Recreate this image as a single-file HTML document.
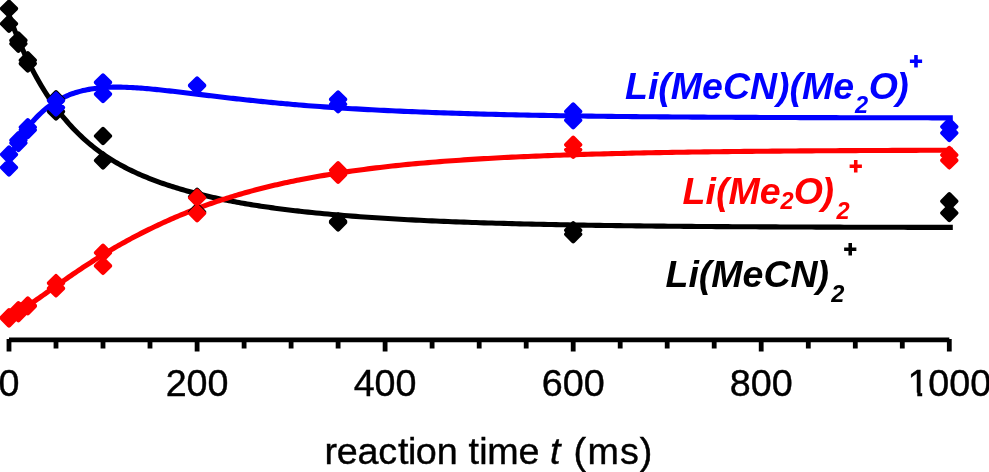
<!DOCTYPE html>
<html lang="en"><head><meta charset="utf-8"><title>reaction time plot</title>
<style>html,body{margin:0;padding:0;background:#fff;}body{width:989px;height:472px;overflow:hidden;}</style>
</head><body>
<svg width="989" height="472" viewBox="0 0 989 472" style="display:block">
<rect width="989" height="472" fill="#fff"/>
<g>
<path d="M9.0,15.13 L11.0,20.65 L13.0,25.99 L15.0,31.16 L17.0,36.17 L19.0,41.01 L21.0,45.69 L23.0,50.23 L25.0,54.62 L27.0,58.88 L29.0,63.00 L31.0,66.99 L33.0,70.86 L35.0,74.61 L37.0,78.25 L39.0,81.77 L41.0,85.19 L43.0,88.51 L45.0,91.73 L47.0,94.85 L49.0,97.88 L51.0,100.82 L53.0,103.68 L55.0,106.46 L57.0,109.15 L59.0,111.77 L61.0,114.32 L63.0,116.79 L65.0,119.20 L67.0,121.53 L69.0,123.81 L71.0,126.01 L73.0,128.16 L75.0,130.25 L77.0,132.28 L79.0,134.26 L81.0,136.18 L83.0,138.04 L85.0,139.86 L87.0,141.63 L89.0,143.34 L91.0,145.02 L93.0,146.64 L95.0,148.22 L97.0,149.76 L99.0,151.25 L101.0,152.70 L103.0,154.12 L105.0,155.49 L107.0,156.83 L109.0,158.13 L111.0,159.40 L113.0,160.63 L115.0,161.83 L117.0,163.00 L119.0,164.14 L121.0,165.25 L123.0,166.33 L125.0,167.38 L127.0,168.41 L129.0,169.41 L131.0,170.39 L133.0,171.35 L135.0,172.29 L137.0,173.20 L139.0,174.09 L141.0,174.97 L143.0,175.82 L145.0,176.66 L147.0,177.48 L149.0,178.28 L151.0,179.07 L153.0,179.84 L155.0,180.60 L157.0,181.34 L159.0,182.07 L161.0,182.78 L163.0,183.48 L165.0,184.17 L167.0,184.84 L169.0,185.50 L171.0,186.15 L173.0,186.79 L175.0,187.42 L177.0,188.03 L179.0,188.64 L181.0,189.23 L183.0,189.81 L185.0,190.39 L187.0,190.95 L189.0,191.50 L191.0,192.04 L193.0,192.57 L195.0,193.10 L197.0,193.61 L199.0,194.12 L201.0,194.61 L203.0,195.10 L205.0,195.58 L207.0,196.05 L209.0,196.51 L211.0,196.97 L213.0,197.41 L215.0,197.85 L217.0,198.28 L219.0,198.71 L221.0,199.13 L223.0,199.54 L225.0,199.94 L227.0,200.34 L229.0,200.73 L231.0,201.11 L233.0,201.49 L235.0,201.86 L237.0,202.23 L239.0,202.59 L241.0,202.94 L243.0,203.29 L245.0,203.63 L247.0,203.97 L249.0,204.30 L251.0,204.63 L253.0,204.95 L255.0,205.26 L257.0,205.57 L259.0,205.88 L261.0,206.18 L263.0,206.48 L265.0,206.77 L267.0,207.06 L269.0,207.35 L271.0,207.63 L273.0,207.90 L275.0,208.17 L277.0,208.44 L279.0,208.70 L281.0,208.96 L283.0,209.22 L285.0,209.47 L287.0,209.72 L289.0,209.96 L291.0,210.20 L293.0,210.44 L295.0,210.67 L297.0,210.90 L299.0,211.13 L300.0,211.24 L304.0,211.68 L308.0,212.11 L312.0,212.53 L316.0,212.93 L320.0,213.32 L324.0,213.71 L328.0,214.08 L332.0,214.44 L336.0,214.79 L340.0,215.13 L344.0,215.46 L348.0,215.78 L352.0,216.10 L356.0,216.40 L360.0,216.70 L364.0,216.99 L368.0,217.27 L372.0,217.54 L376.0,217.81 L380.0,218.06 L384.0,218.32 L388.0,218.56 L392.0,218.80 L396.0,219.03 L400.0,219.26 L404.0,219.48 L408.0,219.69 L412.0,219.90 L416.0,220.10 L420.0,220.30 L424.0,220.49 L428.0,220.68 L432.0,220.86 L436.0,221.03 L440.0,221.21 L444.0,221.38 L448.0,221.54 L452.0,221.70 L456.0,221.85 L460.0,222.00 L464.0,222.15 L468.0,222.29 L472.0,222.43 L476.0,222.57 L480.0,222.70 L484.0,222.83 L488.0,222.95 L492.0,223.07 L496.0,223.19 L500.0,223.31 L504.0,223.42 L508.0,223.53 L512.0,223.64 L516.0,223.74 L520.0,223.84 L524.0,223.94 L528.0,224.04 L532.0,224.13 L536.0,224.22 L540.0,224.31 L544.0,224.40 L548.0,224.48 L552.0,224.56 L556.0,224.64 L560.0,224.72 L564.0,224.79 L568.0,224.87 L572.0,224.94 L576.0,225.01 L580.0,225.08 L584.0,225.14 L588.0,225.21 L592.0,225.27 L596.0,225.33 L600.0,225.39 L604.0,225.45 L608.0,225.51 L612.0,225.56 L616.0,225.62 L620.0,225.67 L624.0,225.72 L628.0,225.77 L632.0,225.82 L636.0,225.86 L640.0,225.91 L644.0,225.95 L648.0,226.00 L652.0,226.04 L656.0,226.08 L660.0,226.12 L664.0,226.16 L668.0,226.20 L672.0,226.24 L676.0,226.27 L680.0,226.31 L684.0,226.34 L688.0,226.37 L692.0,226.41 L696.0,226.44 L700.0,226.47 L704.0,226.50 L708.0,226.53 L712.0,226.56 L716.0,226.58 L720.0,226.61 L724.0,226.64 L728.0,226.66 L732.0,226.69 L736.0,226.71 L740.0,226.74 L744.0,226.76 L748.0,226.78 L752.0,226.80 L756.0,226.82 L760.0,226.85 L764.0,226.87 L768.0,226.89 L772.0,226.90 L776.0,226.92 L780.0,226.94 L784.0,226.96 L788.0,226.98 L792.0,226.99 L796.0,227.01 L800.0,227.03 L804.0,227.04 L808.0,227.06 L812.0,227.07 L816.0,227.09 L820.0,227.10 L824.0,227.11 L828.0,227.13 L832.0,227.14 L836.0,227.15 L840.0,227.16 L844.0,227.18 L848.0,227.19 L852.0,227.20 L856.0,227.21 L860.0,227.22 L864.0,227.23 L868.0,227.24 L872.0,227.25 L876.0,227.26 L880.0,227.27 L884.0,227.28 L888.0,227.29 L892.0,227.30 L896.0,227.31 L900.0,227.31 L904.0,227.32 L908.0,227.33 L912.0,227.34 L916.0,227.34 L920.0,227.35 L924.0,227.36 L928.0,227.37 L932.0,227.37 L936.0,227.38 L940.0,227.39 L944.0,227.39 L948.0,227.40 L949.3,227.40 L952.8,227.40" fill="none" stroke="#000000" stroke-width="5.1" stroke-linejoin="round"/>
<path d="M9.0,158.77 L11.0,154.70 L13.0,150.83 L15.0,147.14 L17.0,143.63 L19.0,140.30 L21.0,137.13 L23.0,134.12 L25.0,131.26 L27.0,128.53 L29.0,125.94 L31.0,123.49 L33.0,121.16 L35.0,118.96 L37.0,116.87 L39.0,114.89 L41.0,112.99 L43.0,111.17 L45.0,109.44 L47.0,107.81 L49.0,106.27 L51.0,104.81 L53.0,103.44 L55.0,102.14 L57.0,100.92 L59.0,99.77 L61.0,98.69 L63.0,97.68 L65.0,96.72 L67.0,95.83 L69.0,94.99 L71.0,94.21 L73.0,93.48 L75.0,92.80 L77.0,92.19 L79.0,91.62 L81.0,91.09 L83.0,90.60 L85.0,90.16 L87.0,89.75 L89.0,89.37 L91.0,89.03 L93.0,88.73 L95.0,88.45 L97.0,88.20 L99.0,87.98 L101.0,87.79 L103.0,87.63 L105.0,87.48 L107.0,87.36 L109.0,87.27 L111.0,87.20 L113.0,87.16 L115.0,87.13 L117.0,87.13 L119.0,87.14 L121.0,87.17 L123.0,87.21 L125.0,87.27 L127.0,87.34 L129.0,87.43 L131.0,87.52 L133.0,87.63 L135.0,87.75 L137.0,87.88 L139.0,88.01 L141.0,88.16 L143.0,88.31 L145.0,88.48 L147.0,88.65 L149.0,88.82 L151.0,89.01 L153.0,89.20 L155.0,89.39 L157.0,89.59 L159.0,89.80 L161.0,90.00 L163.0,90.22 L165.0,90.44 L167.0,90.66 L169.0,90.88 L171.0,91.11 L173.0,91.34 L175.0,91.57 L177.0,91.80 L179.0,92.04 L181.0,92.28 L183.0,92.51 L185.0,92.74 L187.0,92.98 L189.0,93.22 L191.0,93.46 L193.0,93.69 L195.0,93.93 L197.0,94.17 L199.0,94.41 L201.0,94.65 L203.0,94.89 L205.0,95.13 L207.0,95.37 L209.0,95.61 L211.0,95.84 L213.0,96.08 L215.0,96.32 L217.0,96.55 L219.0,96.79 L221.0,97.02 L223.0,97.26 L225.0,97.49 L227.0,97.72 L229.0,97.95 L231.0,98.17 L233.0,98.40 L235.0,98.63 L237.0,98.85 L239.0,99.07 L241.0,99.29 L243.0,99.51 L245.0,99.73 L247.0,99.95 L249.0,100.16 L251.0,100.37 L253.0,100.58 L255.0,100.79 L257.0,101.00 L259.0,101.21 L261.0,101.41 L263.0,101.61 L265.0,101.82 L267.0,102.01 L269.0,102.21 L271.0,102.41 L273.0,102.60 L275.0,102.79 L277.0,102.98 L279.0,103.17 L281.0,103.35 L283.0,103.54 L285.0,103.72 L287.0,103.90 L289.0,104.08 L291.0,104.26 L293.0,104.43 L295.0,104.61 L297.0,104.78 L299.0,104.95 L300.0,105.03 L304.0,105.35 L308.0,105.67 L312.0,105.98 L316.0,106.28 L320.0,106.57 L324.0,106.86 L328.0,107.14 L332.0,107.41 L336.0,107.68 L340.0,107.94 L344.0,108.19 L348.0,108.44 L352.0,108.69 L356.0,108.92 L360.0,109.15 L364.0,109.38 L368.0,109.60 L372.0,109.81 L376.0,110.02 L380.0,110.22 L384.0,110.42 L388.0,110.61 L392.0,110.80 L396.0,110.98 L400.0,111.16 L404.0,111.33 L408.0,111.50 L412.0,111.66 L416.0,111.82 L420.0,111.98 L424.0,112.14 L428.0,112.29 L432.0,112.44 L436.0,112.59 L440.0,112.73 L444.0,112.87 L448.0,113.01 L452.0,113.14 L456.0,113.27 L460.0,113.40 L464.0,113.52 L468.0,113.64 L472.0,113.76 L476.0,113.87 L480.0,113.99 L484.0,114.09 L488.0,114.20 L492.0,114.30 L496.0,114.40 L500.0,114.50 L504.0,114.59 L508.0,114.68 L512.0,114.77 L516.0,114.86 L520.0,114.95 L524.0,115.03 L528.0,115.11 L532.0,115.19 L536.0,115.27 L540.0,115.34 L544.0,115.41 L548.0,115.48 L552.0,115.55 L556.0,115.62 L560.0,115.68 L564.0,115.75 L568.0,115.81 L572.0,115.87 L576.0,115.93 L580.0,115.98 L584.0,116.04 L588.0,116.09 L592.0,116.15 L596.0,116.20 L600.0,116.25 L604.0,116.30 L608.0,116.34 L612.0,116.39 L616.0,116.43 L620.0,116.48 L624.0,116.52 L628.0,116.56 L632.0,116.60 L636.0,116.64 L640.0,116.68 L644.0,116.71 L648.0,116.75 L652.0,116.78 L656.0,116.82 L660.0,116.85 L664.0,116.88 L668.0,116.92 L672.0,116.95 L676.0,116.98 L680.0,117.00 L684.0,117.03 L688.0,117.06 L692.0,117.09 L696.0,117.11 L700.0,117.14 L704.0,117.16 L708.0,117.18 L712.0,117.21 L716.0,117.23 L720.0,117.25 L724.0,117.27 L728.0,117.29 L732.0,117.31 L736.0,117.33 L740.0,117.35 L744.0,117.37 L748.0,117.39 L752.0,117.41 L756.0,117.42 L760.0,117.44 L764.0,117.45 L768.0,117.47 L772.0,117.48 L776.0,117.50 L780.0,117.51 L784.0,117.53 L788.0,117.54 L792.0,117.55 L796.0,117.57 L800.0,117.58 L804.0,117.59 L808.0,117.60 L812.0,117.61 L816.0,117.62 L820.0,117.63 L824.0,117.64 L828.0,117.65 L832.0,117.66 L836.0,117.67 L840.0,117.68 L844.0,117.69 L848.0,117.70 L852.0,117.71 L856.0,117.72 L860.0,117.72 L864.0,117.73 L868.0,117.74 L872.0,117.75 L876.0,117.75 L880.0,117.76 L884.0,117.77 L888.0,117.77 L892.0,117.78 L896.0,117.78 L900.0,117.79 L904.0,117.79 L908.0,117.80 L912.0,117.80 L916.0,117.81 L920.0,117.81 L924.0,117.82 L928.0,117.82 L932.0,117.83 L936.0,117.83 L940.0,117.84 L944.0,117.84 L948.0,117.84 L949.3,117.84 L952.8,117.84" fill="none" stroke="#0000ff" stroke-width="5.1" stroke-linejoin="round"/>
<path d="M9.0,317.76 L11.0,316.55 L13.0,315.31 L15.0,314.06 L17.0,312.78 L19.0,311.50 L21.0,310.20 L23.0,308.89 L25.0,307.56 L27.0,306.23 L29.0,304.89 L31.0,303.54 L33.0,302.16 L35.0,300.79 L37.0,299.41 L39.0,298.03 L41.0,296.64 L43.0,295.26 L45.0,293.87 L47.0,292.45 L49.0,291.02 L51.0,289.60 L53.0,288.18 L55.0,286.76 L57.0,285.34 L59.0,283.93 L61.0,282.53 L63.0,281.13 L65.0,279.73 L67.0,278.34 L69.0,276.96 L71.0,275.59 L73.0,274.22 L75.0,272.86 L77.0,271.50 L79.0,270.16 L81.0,268.82 L83.0,267.49 L85.0,266.18 L87.0,264.87 L89.0,263.56 L91.0,262.27 L93.0,260.99 L95.0,259.72 L97.0,258.46 L99.0,257.21 L101.0,255.97 L103.0,254.73 L105.0,253.51 L107.0,252.30 L109.0,251.10 L111.0,249.92 L113.0,248.74 L115.0,247.57 L117.0,246.41 L119.0,245.27 L121.0,244.13 L123.0,243.01 L125.0,241.90 L127.0,240.80 L129.0,239.70 L131.0,238.62 L133.0,237.56 L135.0,236.50 L137.0,235.45 L139.0,234.41 L141.0,233.39 L143.0,232.37 L145.0,231.37 L147.0,230.38 L149.0,229.39 L151.0,228.42 L153.0,227.46 L155.0,226.51 L157.0,225.57 L159.0,224.64 L161.0,223.71 L163.0,222.79 L165.0,221.87 L167.0,220.97 L169.0,220.08 L171.0,219.19 L173.0,218.32 L175.0,217.46 L177.0,216.60 L179.0,215.76 L181.0,214.92 L183.0,214.10 L185.0,213.28 L187.0,212.48 L189.0,211.68 L191.0,210.89 L193.0,210.12 L195.0,209.35 L197.0,208.59 L199.0,207.84 L201.0,207.09 L203.0,206.36 L205.0,205.63 L207.0,204.92 L209.0,204.21 L211.0,203.51 L213.0,202.82 L215.0,202.14 L217.0,201.46 L219.0,200.79 L221.0,200.14 L223.0,199.49 L225.0,198.84 L227.0,198.21 L229.0,197.58 L231.0,196.96 L233.0,196.35 L235.0,195.74 L237.0,195.14 L239.0,194.55 L241.0,193.97 L243.0,193.39 L245.0,192.83 L247.0,192.26 L249.0,191.71 L251.0,191.16 L253.0,190.62 L255.0,190.08 L257.0,189.55 L259.0,189.03 L261.0,188.52 L263.0,188.01 L265.0,187.50 L267.0,187.01 L269.0,186.51 L271.0,186.03 L273.0,185.56 L275.0,185.10 L277.0,184.64 L279.0,184.19 L281.0,183.74 L283.0,183.30 L285.0,182.86 L287.0,182.43 L289.0,182.01 L291.0,181.59 L293.0,181.17 L295.0,180.76 L297.0,180.36 L299.0,179.96 L300.0,179.76 L304.0,178.98 L308.0,178.22 L312.0,177.49 L316.0,176.76 L320.0,176.06 L324.0,175.38 L328.0,174.71 L332.0,174.06 L336.0,173.42 L340.0,172.80 L344.0,172.20 L348.0,171.61 L352.0,171.04 L356.0,170.48 L360.0,169.94 L364.0,169.41 L368.0,168.89 L372.0,168.38 L376.0,167.89 L380.0,167.41 L384.0,166.94 L388.0,166.49 L392.0,166.04 L396.0,165.61 L400.0,165.19 L404.0,164.79 L408.0,164.40 L412.0,164.02 L416.0,163.65 L420.0,163.29 L424.0,162.94 L428.0,162.60 L432.0,162.27 L436.0,161.95 L440.0,161.63 L444.0,161.33 L448.0,161.03 L452.0,160.74 L456.0,160.45 L460.0,160.18 L464.0,159.91 L468.0,159.64 L472.0,159.39 L476.0,159.14 L480.0,158.90 L484.0,158.66 L488.0,158.43 L492.0,158.21 L496.0,157.99 L500.0,157.78 L504.0,157.57 L508.0,157.37 L512.0,157.17 L516.0,156.98 L520.0,156.80 L524.0,156.61 L528.0,156.44 L532.0,156.27 L536.0,156.10 L540.0,155.93 L544.0,155.78 L548.0,155.62 L552.0,155.47 L556.0,155.32 L560.0,155.18 L564.0,155.04 L568.0,154.91 L572.0,154.77 L576.0,154.64 L580.0,154.52 L584.0,154.40 L588.0,154.28 L592.0,154.16 L596.0,154.05 L600.0,153.94 L604.0,153.83 L608.0,153.73 L612.0,153.63 L616.0,153.53 L620.0,153.43 L624.0,153.34 L628.0,153.24 L632.0,153.16 L636.0,153.07 L640.0,152.98 L644.0,152.90 L648.0,152.82 L652.0,152.74 L656.0,152.67 L660.0,152.59 L664.0,152.52 L668.0,152.45 L672.0,152.38 L676.0,152.32 L680.0,152.25 L684.0,152.19 L688.0,152.13 L692.0,152.07 L696.0,152.01 L700.0,151.95 L704.0,151.90 L708.0,151.84 L712.0,151.79 L716.0,151.74 L720.0,151.69 L724.0,151.64 L728.0,151.59 L732.0,151.55 L736.0,151.50 L740.0,151.46 L744.0,151.42 L748.0,151.37 L752.0,151.33 L756.0,151.29 L760.0,151.26 L764.0,151.22 L768.0,151.18 L772.0,151.15 L776.0,151.11 L780.0,151.08 L784.0,151.05 L788.0,151.01 L792.0,150.98 L796.0,150.95 L800.0,150.92 L804.0,150.89 L808.0,150.87 L812.0,150.84 L816.0,150.81 L820.0,150.79 L824.0,150.76 L828.0,150.74 L832.0,150.71 L836.0,150.69 L840.0,150.67 L844.0,150.65 L848.0,150.62 L852.0,150.60 L856.0,150.58 L860.0,150.56 L864.0,150.54 L868.0,150.53 L872.0,150.51 L876.0,150.49 L880.0,150.47 L884.0,150.45 L888.0,150.44 L892.0,150.42 L896.0,150.41 L900.0,150.39 L904.0,150.38 L908.0,150.36 L912.0,150.35 L916.0,150.33 L920.0,150.32 L924.0,150.31 L928.0,150.30 L932.0,150.28 L936.0,150.27 L940.0,150.26 L944.0,150.25 L948.0,150.24 L949.3,150.23 L952.8,150.23" fill="none" stroke="#ff0000" stroke-width="5.1" stroke-linejoin="round"/>
<path d="M9.0,1.7 L15.9,8.6 L9.0,15.5 L2.1,8.6Z M9.0,16.9 L15.9,23.8 L9.0,30.7 L2.1,23.8Z M18.4,33.5 L25.3,40.4 L18.4,47.3 L11.5,40.4Z M18.4,36.9 L25.3,43.8 L18.4,50.7 L11.5,43.8Z M27.8,53.4 L34.7,60.3 L27.8,67.2 L20.9,60.3Z M27.8,56.7 L34.7,63.6 L27.8,70.5 L20.9,63.6Z M56.0,92.4 L62.9,99.3 L56.0,106.2 L49.1,99.3Z M56.0,104.7 L62.9,111.6 L56.0,118.5 L49.1,111.6Z M103.0,129.1 L109.9,136.0 L103.0,142.9 L96.1,136.0Z M103.0,153.6 L109.9,160.5 L103.0,167.4 L96.1,160.5Z M197.1,189.9 L204.0,196.8 L197.1,203.7 L190.2,196.8Z M197.1,205.1 L204.0,212.0 L197.1,218.9 L190.2,212.0Z M338.1,214.5 L345.0,221.4 L338.1,228.3 L331.2,221.4Z M338.1,215.6 L345.0,222.5 L338.1,229.4 L331.2,222.5Z M573.2,223.4 L580.1,230.3 L573.2,237.2 L566.3,230.3Z M573.2,227.3 L580.1,234.2 L573.2,241.1 L566.3,234.2Z M949.3,194.4 L956.2,201.3 L949.3,208.2 L942.4,201.3Z M949.3,206.1 L956.2,213.0 L949.3,219.9 L942.4,213.0Z" fill="#000000" stroke="#000000" stroke-width="4.4" stroke-linejoin="round"/>
<path d="M9.0,147.6 L15.9,154.5 L9.0,161.4 L2.1,154.5Z M9.0,160.6 L15.9,167.5 L9.0,174.4 L2.1,167.5Z M18.4,133.3 L25.3,140.2 L18.4,147.1 L11.5,140.2Z M18.4,136.1 L25.3,143.0 L18.4,149.9 L11.5,143.0Z M27.8,120.3 L34.7,127.2 L27.8,134.1 L20.9,127.2Z M27.8,123.1 L34.7,130.0 L27.8,136.9 L20.9,130.0Z M56.0,93.7 L62.9,100.6 L56.0,107.5 L49.1,100.6Z M56.0,100.7 L62.9,107.6 L56.0,114.5 L49.1,107.6Z M103.0,75.5 L109.9,82.4 L103.0,89.3 L96.1,82.4Z M103.0,87.2 L109.9,94.1 L103.0,101.0 L96.1,94.1Z M197.1,78.5 L204.0,85.4 L197.1,92.3 L190.2,85.4Z M197.1,78.9 L204.0,85.8 L197.1,92.7 L190.2,85.8Z M338.1,92.5 L345.0,99.4 L338.1,106.3 L331.2,99.4Z M338.1,97.3 L345.0,104.2 L338.1,111.1 L331.2,104.2Z M573.2,104.6 L580.1,111.5 L573.2,118.4 L566.3,111.5Z M573.2,113.4 L580.1,120.3 L573.2,127.2 L566.3,120.3Z M949.3,119.9 L956.2,126.8 L949.3,133.7 L942.4,126.8Z M949.3,126.1 L956.2,133.0 L949.3,139.9 L942.4,133.0Z" fill="#0000ff" stroke="#0000ff" stroke-width="4.4" stroke-linejoin="round"/>
<path d="M9.0,310.4 L15.9,317.3 L9.0,324.2 L2.1,317.3Z M9.0,311.6 L15.9,318.5 L9.0,325.4 L2.1,318.5Z M18.4,303.3 L25.3,310.2 L18.4,317.1 L11.5,310.2Z M18.4,306.3 L25.3,313.2 L18.4,320.1 L11.5,313.2Z M27.8,298.6 L34.7,305.5 L27.8,312.4 L20.9,305.5Z M27.8,299.3 L34.7,306.2 L27.8,313.1 L20.9,306.2Z M56.0,276.2 L62.9,283.1 L56.0,290.0 L49.1,283.1Z M56.0,281.5 L62.9,288.4 L56.0,295.3 L49.1,288.4Z M103.0,245.8 L109.9,252.7 L103.0,259.6 L96.1,252.7Z M103.0,259.0 L109.9,265.9 L103.0,272.8 L96.1,265.9Z M197.1,190.9 L204.0,197.8 L197.1,204.7 L190.2,197.8Z M197.1,206.4 L204.0,213.3 L197.1,220.2 L190.2,213.3Z M338.1,163.4 L345.0,170.3 L338.1,177.2 L331.2,170.3Z M338.1,167.8 L345.0,174.7 L338.1,181.6 L331.2,174.7Z M573.2,137.8 L580.1,144.7 L573.2,151.6 L566.3,144.7Z M573.2,142.9 L580.1,149.8 L573.2,156.7 L566.3,149.8Z M949.3,148.1 L956.2,155.0 L949.3,161.9 L942.4,155.0Z M949.3,153.5 L956.2,160.4 L949.3,167.3 L942.4,160.4Z" fill="#ff0000" stroke="#ff0000" stroke-width="4.4" stroke-linejoin="round"/>
</g>
<g>
<path d="M9,339.9 H949.3" stroke="#000" stroke-width="4.8" fill="none"/>
<path d="M9.0,338.9 V351.6 M56.0,339.9 V348.6 M103.0,339.9 V348.6 M150.0,339.9 V348.6 M197.1,339.9 V351.6 M244.1,339.9 V348.6 M291.1,339.9 V348.6 M338.1,339.9 V348.6 M385.1,339.9 V351.6 M432.1,339.9 V348.6 M479.2,339.9 V348.6 M526.2,339.9 V348.6 M573.2,339.9 V351.6 M620.2,339.9 V348.6 M667.2,339.9 V348.6 M714.2,339.9 V348.6 M761.2,339.9 V351.6 M808.3,339.9 V348.6 M855.3,339.9 V348.6 M902.3,339.9 V348.6 M949.3,338.9 V351.6" stroke="#000" stroke-width="4.8" fill="none"/>
</g>
<g font-family="'Liberation Sans', sans-serif" font-size="37.7" fill="#000" stroke="#000" stroke-width="0.4">
<text x="9.0" y="396.2" text-anchor="middle">0</text>
<text x="197.1" y="396.2" text-anchor="middle">200</text>
<text x="385.1" y="396.2" text-anchor="middle">400</text>
<text x="573.2" y="396.2" text-anchor="middle">600</text>
<text x="761.2" y="396.2" text-anchor="middle">800</text>
<text x="949.3" y="396.2" text-anchor="middle">1000</text>
<rect x="909.4" y="392.6" width="7.9" height="5" fill="#fff" stroke="none"/>
<rect x="922.2" y="392.6" width="6" height="5" fill="#fff" stroke="none"/>
<text x="324.4 336.8 357.4 378.3 397.9 408.1 415.7 436.8" y="463.6">reaction</text>
<text x="468.4 479.3 487.2 518.6" y="463.6">time</text>
<text x="550.0" y="463.6" font-style="italic">t</text>
<text x="573.4 587.4 619.9 639.7" y="463.6">(ms)</text>
</g>
<g font-family="'Liberation Sans', sans-serif" font-size="37.5" font-weight="bold" font-style="italic" stroke-width="0">
<text id="l1" x="625" y="99.3" fill="#0000ff" stroke="#0000ff">Li(MeCN)(Me<tspan id="l1s" font-size="23.6" dx="0.8" dy="14.1">2</tspan><tspan dx="0.7" dy="-14.1">O</tspan><tspan dx="-1.6">)</tspan></text>
<text id="l1p" stroke="#0000ff" stroke-width="1.1" x="916.1" y="68.8" fill="#0000ff" font-size="22.2" text-anchor="middle" font-style="normal">+</text>
<text id="l2" x="682.6" y="204.1" fill="#ff0000" stroke="#ff0000">Li(Me<tspan font-size="23.6" dy="4.8">2</tspan><tspan dy="-4.8">O</tspan><tspan dx="-1.3">)</tspan><tspan font-size="23.6" dx="2.4" dy="15">2</tspan></text>
<text id="l2p" stroke="#ff0000" stroke-width="1.1" x="855.7" y="173.8" fill="#ff0000" font-size="22.2" text-anchor="middle" font-style="normal">+</text>
<text id="l3" x="665.5" y="286.8" fill="#000" stroke="#000">Li(MeCN<tspan dx="-1">)</tspan><tspan font-size="23.6" dx="2.1" dy="15.2">2</tspan></text>
<text id="l3p" stroke="#000" stroke-width="1.1" x="850.2" y="257.2" fill="#000" font-size="22.2" text-anchor="middle" font-style="normal">+</text>
</g>
</svg>
</body></html>
